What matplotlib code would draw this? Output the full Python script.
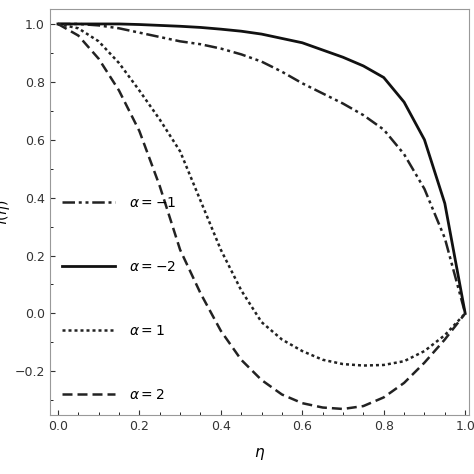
import matplotlib
matplotlib.use("Agg")
import matplotlib.pyplot as plt

eta = [0.0, 0.05, 0.1, 0.15, 0.2, 0.25, 0.3, 0.35, 0.4, 0.45, 0.5, 0.55, 0.6, 0.65, 0.7, 0.75, 0.8, 0.85, 0.9, 0.95, 1.0]
f_m1 = [1.0, 1.0, 0.995, 0.985, 0.97, 0.955, 0.94, 0.93, 0.915, 0.895, 0.87, 0.835, 0.795, 0.76, 0.725, 0.685, 0.635, 0.55, 0.43, 0.26, 0.0]
f_m2 = [1.0, 1.0, 1.0, 1.0, 0.998, 0.995, 0.992, 0.988, 0.982, 0.975, 0.965, 0.95, 0.935, 0.91, 0.885, 0.855, 0.815, 0.73, 0.6, 0.38, 0.0]
f_p1 = [1.0, 0.985, 0.94, 0.865, 0.77, 0.67, 0.56, 0.39, 0.22, 0.08, -0.03, -0.09, -0.13, -0.16, -0.175, -0.18, -0.178, -0.165, -0.13, -0.075, 0.0]
f_p2 = [1.0, 0.96, 0.88, 0.77, 0.63, 0.44, 0.22, 0.07, -0.06, -0.16, -0.23, -0.28, -0.31, -0.325, -0.33, -0.32, -0.29, -0.24, -0.17, -0.09, 0.0]
labels = [r"$\alpha = -1$", r"$\alpha = -2$", r"$\alpha = 1$", r"$\alpha = 2$"]

fig, ax = plt.subplots(figsize=(4.74, 4.74), dpi=100)
fig.subplots_adjust(left=0.105, right=0.99, top=0.98, bottom=0.125)
ax.plot(eta, f_m1, color="#222", lw=1.8, ls=(0, (5, 1.5, 1.2, 1.5, 1.2, 1.5)), label=labels[0])
ax.plot(eta, f_m2, color="#111", lw=2.0, ls="-", label=labels[1])
ax.plot(eta, f_p1, color="#222", lw=1.8, ls=(0, (1.2, 1.2)), label=labels[2])
ax.plot(eta, f_p2, color="#222", lw=1.8, ls=(0, (4, 2)), label=labels[3])
ax.set_xlim(-0.02, 1.01)
ax.set_ylim(-0.35, 1.05)
ax.set_xticks([0, 0.2, 0.4, 0.6, 0.8, 1.0])
ax.set_yticks([-0.2, 0, 0.2, 0.4, 0.6, 0.8, 1.0])
ax.set_xticks([i / 20 for i in range(21)], minor=True)
ax.set_yticks([-0.3 + i * 0.1 for i in range(14)], minor=True)
ax.tick_params(direction="in", labelsize=9, colors="#333")
ax.tick_params(which="minor", direction="in", length=2)
for s in ax.spines.values():
    s.set_color("#999")
ax.set_xlabel(r"$\eta$", fontsize=11, labelpad=10)
ax.set_ylabel(r"$f(\eta)$", fontsize=10, labelpad=2)
ax.legend(loc="lower left", bbox_to_anchor=(0.0, 0.0), frameon=False, fontsize=10,
          handlelength=3.8, labelspacing=3.6, handletextpad=1.0)
fig.savefig("out.png", dpi=100)
